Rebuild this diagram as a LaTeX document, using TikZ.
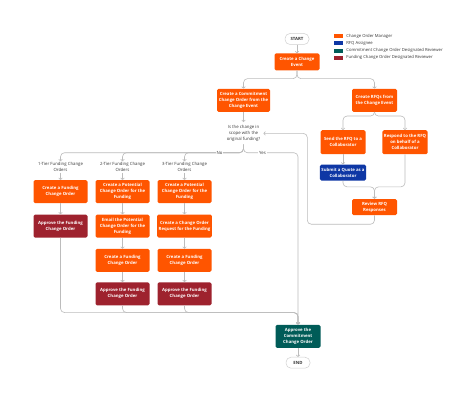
\documentclass[tikz,border=0pt]{standalone}
\usepackage{fontspec}
\setmainfont{Open Sans}
\usepackage{tikz}
\usetikzlibrary{arrows.meta, positioning, calc}
\definecolor{mgrorange}{RGB}{255, 85, 0}
\definecolor{rfqblue}{RGB}{14, 55, 165}
\definecolor{cccteal}{RGB}{0, 92, 88}
\definecolor{fcored}{RGB}{158, 34, 46}
\definecolor{linegray}{RGB}{188, 188, 188}
\definecolor{textgray}{RGB}{55, 55, 55}
\tikzset{
  x=1pt, y=1pt,
  stepblock/.style={
    rectangle, rounded corners=1.5pt, inner sep=1.5pt,
    minimum width=45pt, minimum height=16pt,
    align=center, text=white, font=\fontsize{4.3}{6}\selectfont\bfseries
  },
  managerblock/.style={stepblock, fill=mgrorange},
  assigneeblock/.style={stepblock, fill=rfqblue},
  commitblock/.style={stepblock, fill=cccteal},
  fundingblock/.style={stepblock, fill=fcored},
  tierblock/.style={stepblock, minimum width=54pt, minimum height=23pt},
  terminal/.style={
    rectangle, rounded corners=5pt, draw=linegray!70, fill=white, line width=0.5pt,
    minimum width=24pt, minimum height=11pt, inner sep=1pt,
    text=textgray, font=\fontsize{4.3}{6}\selectfont\bfseries
  },
  plaintext/.style={align=center, inner sep=1pt, text=textgray, font=\fontsize{4.3}{6}\selectfont},
  branchlabel/.style={fill=white, inner sep=1pt, text=textgray, font=\fontsize{4.3}{6}\selectfont},
  legendkey/.style={rectangle, minimum width=9pt, minimum height=4pt, inner sep=0pt},
  legendtext/.style={anchor=west, inner sep=0pt, text=textgray, font=\fontsize{4.2}{6}\selectfont},
  flowline/.style={
    draw=linegray, line width=0.6pt, rounded corners=4pt,
    -{Straight Barb[length=1.6pt, width=3.6pt]}
  }
}

\begin{document}
\begin{tikzpicture}

  \path[use as bounding box, fill=white] (0,0) rectangle (474,-401);

  % Legend
  \foreach \col/\txt [count=\i] in {mgrorange/Change Order Manager, rfqblue/RFQ Assignee,
      cccteal/Commitment Change Order Designated Reviewer, fcored/Funding Change Order Designated Reviewer} {
    \node[legendkey, fill=\col] (key\i) at (338.5, {-36-7.3*(\i-1)}) {};
    \node[legendtext, right=3pt of key\i] {\txt};
  }

  % Start and change event
  \node[terminal] (start) at (297,-39) {START};
  \node[managerblock, below=8.5pt of start, minimum height=17pt] (change_event) {Create a Change\\Event};

  % Commitment change order branch
  \node[managerblock, below=18pt of change_event, xshift=-53.5pt, minimum width=53pt, minimum height=23pt] (commit_co) {
    Create a Commitment\\Change Order from the\\Change Event
  };
  \node[plaintext, below=10pt of commit_co, inner sep=3pt] (scope_q) {Is the change in\\scope with the\\original funding?};
  \coordinate[below=8pt of scope_q] (fork);

  % RFQ branch
  \node[managerblock, below=18pt of change_event, xshift=77.5pt, minimum height=23pt] (create_rfq) {Create RFQs from\\the Change Event};
  \node[managerblock, below=18pt of create_rfq, xshift=-31.5pt, minimum height=24pt] (send_rfq) {Send the RFQ to a\\Collaborator};
  \node[managerblock, below=18pt of create_rfq, xshift=30.5pt, minimum height=24pt] (respond_rfq) {
    Respond to the RFQ\\on behalf of a\\Collaborator
  };
  \node[assigneeblock, below=10pt of send_rfq] (submit_quote) {Submit a Quote as a\\Collaborator};
  \node[managerblock, below=18pt of submit_quote, xshift=31.5pt] (review_rfq) {Review RFQ\\Responses};

  % Funding change order tiers
  \node[plaintext, below=8.5pt of fork, xshift=-183pt] (tier1) {1-Tier Funding Change\\Orders};
  \node[plaintext, below=8.5pt of fork, xshift=-121pt] (tier2) {2-Tier Funding Change\\Orders};
  \node[plaintext, below=8.5pt of fork, xshift=-59pt] (tier3) {3-Tier Funding Change\\Orders};

  \node[managerblock, tierblock, below=7pt of tier1] (t1_create) {Create a Funding\\Change Order};
  \node[fundingblock, tierblock, below=11pt of t1_create] (t1_approve) {Approve the Funding\\Change Order};

  \node[managerblock, tierblock, below=7pt of tier2] (t2_potential) {Create a Potential\\Change Order for the\\Funding};
  \node[managerblock, tierblock, below=11pt of t2_potential] (t2_email) {Email the Potential\\Change Order for the\\Funding};
  \node[managerblock, tierblock, below=11pt of t2_email] (t2_create) {Create a Funding\\Change Order};
  \node[fundingblock, tierblock, below=10pt of t2_create] (t2_approve) {Approve the Funding\\Change Order};

  \node[managerblock, tierblock, below=7pt of tier3] (t3_potential) {Create a Potential\\Change Order for the\\Funding};
  \node[managerblock, tierblock, below=11pt of t3_potential] (t3_request) {Create a Change Order\\Request for the Funding};
  \node[managerblock, tierblock, below=11pt of t3_request] (t3_create) {Create a Funding\\Change Order};
  \node[fundingblock, tierblock, below=10pt of t3_create] (t3_approve) {Approve the Funding\\Change Order};

  % Commitment approval and end
  \node[commitblock, below=19pt of t2_approve, xshift=175.5pt, minimum height=23pt] (approve_cco) {
    Approve the\\Commitment\\Change Order
  };
  \node[terminal] (end) [below=9pt of approve_cco] {END};

  % Flows
  \draw[flowline] (start) -- (change_event);
  \draw[flowline] (change_event.south) -- ++(0,-8) -| (commit_co.north);
  \draw[flowline] (change_event.south) -- ++(0,-8) -| (create_rfq.north);
  \draw[flowline] (commit_co) -- (scope_q);

  % Decision split
  \draw[flowline] (scope_q.south) -- (fork) -| (tier1.north);
  \draw[flowline] (scope_q.south) -- (fork) -| (tier2.north);
  \draw[flowline] (scope_q.south) -- (fork) -| (tier3.north);
  \draw[flowline] (scope_q.south) -- (fork) -| (approve_cco.north);
  \node[branchlabel] at ($(fork)+(-24,0)$) {No};
  \node[branchlabel] at ($(fork)+(19,0)$) {Yes};

  % Tier columns
  \draw[flowline] (tier1) -- (t1_create);
  \draw[flowline] (t1_create) -- (t1_approve);
  \draw[flowline] (tier2) -- (t2_potential);
  \draw[flowline] (t2_potential) -- (t2_email);
  \draw[flowline] (t2_email) -- (t2_create);
  \draw[flowline] (t2_create) -- (t2_approve);
  \draw[flowline] (tier3) -- (t3_potential);
  \draw[flowline] (t3_potential) -- (t3_request);
  \draw[flowline] (t3_request) -- (t3_create);
  \draw[flowline] (t3_create) -- (t3_approve);

  \coordinate (merge) at ($(t2_approve.south -| approve_cco.north)+(0,-7)$);
  \foreach \col in {t1,t2,t3}
    \draw[flowline] (\col_approve.south) |- (merge) -- (approve_cco.north);
  \draw[flowline] (approve_cco) -- (end);

  % RFQ flow
  \draw[flowline] (create_rfq.south) -- ++(0,-4) -| (send_rfq.north);
  \draw[flowline] (create_rfq.south) -- ++(0,-4) -| (respond_rfq.north);
  \draw[flowline] (send_rfq) -- (submit_quote);
  \coordinate (rfq_join) at ($(submit_quote.south -| review_rfq.north)+(0,-6)$);
  \draw[flowline] (submit_quote.south) |- (rfq_join) -- (review_rfq.north);
  \draw[flowline] (respond_rfq.south) |- (rfq_join) -- (review_rfq.north);

  % Loop back to decision
  \coordinate[left=13pt of send_rfq.west] (loop_turn);
  \draw[flowline] (review_rfq.south) -- ++(0,-9) -| (loop_turn) |- (scope_q.east);

\end{tikzpicture}
\end{document}
